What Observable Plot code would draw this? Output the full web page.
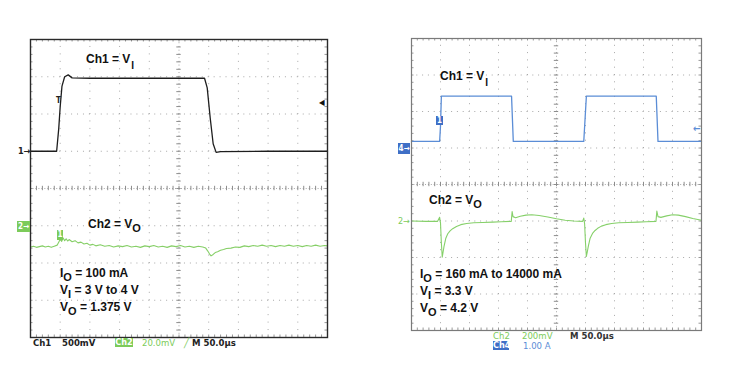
<!DOCTYPE html>
<html>
<head>
<meta charset="utf-8">
<script src="https://cdn.jsdelivr.net/npm/d3@7"></script>
<script src="https://cdn.jsdelivr.net/npm/@observablehq/plot@0.6"></script>
<style>
  html, body { margin: 0; padding: 0; background: #fff; }
  #wrap { position: relative; width: 738px; height: 365px; overflow: hidden; background: #fff; }
  .pane { position: absolute; top: 0; }
  .ann { position: absolute; font-family: "Liberation Sans", Arial, sans-serif; font-weight: bold; font-size: 12px; line-height: 14px; color: #111; white-space: nowrap; }
  .ann .s { position: relative; font-size: 11px; top: 4px; }
  .ann .s1 { position: relative; font-size: 10px; top: 6px; margin-left: 1px; }
  .tek { position: absolute; font-family: "DejaVu Sans Condensed", "DejaVu Sans", sans-serif; font-weight: bold; font-size: 9.5px; line-height: 10px; white-space: nowrap; }
  .box { position: absolute; font-family: "DejaVu Sans Condensed", "DejaVu Sans", sans-serif; font-weight: bold; font-size: 8px; color: #fff; text-align: center; white-space: nowrap; }
</style>
</head>
<body>
<div id="wrap">
  <div id="L" class="pane" style="left:0px"></div>
  <div id="R" class="pane" style="left:378px"></div>
</div>
<script>
// ---- Data (time in divisions 0..10, amplitude in divisions -4..4) ----
const leftCh1 = [[0,1.0],[0.88,1.0],[0.95,1.6],[1.0,2.2],[1.06,2.75],[1.15,3.0],[1.27,3.05],[1.4,2.97],[2.0,2.96],[4.0,2.96],[5.86,2.96],[5.95,2.7],[6.05,1.9],[6.15,1.2],[6.25,0.97],[6.4,0.99],[8.0,1.0],[10,1.0]];
const leftCh2 = [[0,-1.57],[0.1,-1.55],[0.2,-1.58],[0.3,-1.56],[0.4,-1.54],[0.5,-1.57],[0.6,-1.55],[0.7,-1.58],[0.8,-1.55],[0.9,-1.52],[0.95,-1.44],[1.0,-1.36],[1.05,-1.42],[1.1,-1.33],[1.15,-1.40],[1.2,-1.35],[1.25,-1.41],[1.3,-1.37],[1.4,-1.43],[1.5,-1.40],[1.6,-1.46],[1.7,-1.44],[1.8,-1.49],[1.9,-1.47],[2.0,-1.52],[2.1,-1.50],[2.2,-1.54],[2.35,-1.51],[2.5,-1.55],[2.65,-1.53],[2.8,-1.57],[2.95,-1.54],[3.1,-1.56],[3.25,-1.53],[3.4,-1.57],[3.55,-1.55],[3.7,-1.58],[3.85,-1.54],[4.0,-1.56],[4.15,-1.53],[4.3,-1.57],[4.45,-1.55],[4.6,-1.58],[4.75,-1.54],[4.9,-1.56],[5.05,-1.53],[5.2,-1.57],[5.35,-1.55],[5.5,-1.58],[5.65,-1.55],[5.8,-1.57],[5.9,-1.60],[5.97,-1.68],[6.03,-1.76],[6.08,-1.81],[6.15,-1.77],[6.22,-1.72],[6.3,-1.70],[6.4,-1.66],[6.5,-1.64],[6.6,-1.61],[6.75,-1.60],[6.9,-1.57],[7.05,-1.58],[7.2,-1.54],[7.35,-1.56],[7.5,-1.53],[7.65,-1.55],[7.8,-1.52],[7.95,-1.55],[8.1,-1.53],[8.25,-1.56],[8.4,-1.53],[8.55,-1.55],[8.7,-1.52],[8.85,-1.55],[9.0,-1.53],[9.15,-1.56],[9.3,-1.53],[9.45,-1.55],[9.6,-1.52],[9.75,-1.55],[9.9,-1.53],[10,-1.54]];
const rightCh1 = [[0,1.18],[0.97,1.18],[1.0,1.6],[1.03,2.42],[3.45,2.42],[3.51,1.18],[5.94,1.18],[6.03,2.42],[8.44,2.42],[8.5,1.18],[10,1.18]];
const rightCh2 = [[0,-1.0],[0.5,-1.01],[0.9,-1.01],[0.97,-0.90],[1.0,-1.05],[1.03,-1.60],[1.06,-1.99],[1.09,-1.85],[1.12,-1.70],[1.18,-1.48],[1.25,-1.35],[1.33,-1.27],[1.42,-1.21],[1.55,-1.15],[1.7,-1.10],[1.9,-1.07],[2.15,-1.05],[2.45,-1.04],[2.8,-1.03],[3.1,-1.02],[3.44,-1.01],[3.47,-0.74],[3.5,-0.88],[3.59,-0.91],[3.75,-0.87],[3.95,-0.84],[4.15,-0.83],[4.4,-0.85],[4.7,-0.89],[5.0,-0.94],[5.3,-0.98],[5.6,-1.0],[5.9,-1.01],[5.94,-0.92],[5.97,-1.08],[6.0,-1.60],[6.03,-1.97],[6.06,-1.85],[6.1,-1.68],[6.16,-1.47],[6.25,-1.33],[6.33,-1.26],[6.42,-1.20],[6.55,-1.14],[6.7,-1.10],[6.9,-1.07],[7.15,-1.05],[7.45,-1.04],[7.8,-1.03],[8.1,-1.02],[8.43,-1.01],[8.46,-0.73],[8.5,-0.88],[8.6,-0.90],[8.8,-0.86],[9.0,-0.83],[9.2,-0.84],[9.45,-0.88],[9.7,-0.93],[10,-0.98]];

// ---- Text ----
const ch1Label = ["Ch1 = V", "I"];
const ch2Label = ["Ch2 = V", "O"];
const leftInfo = [["I","O"," = 100 mA"],["V","I"," = 3 V to 4 V"],["V","O"," = 1.375 V"]];
const rightInfo = [["I","O"," = 160 mA to 14000 mA"],["V","I"," = 3.3 V"],["V","O"," = 4.2 V"]];
const leftReadout = ["Ch1", "500mV", "Ch2", "20.0mV", "M 50.0µs"];
const rightReadout = ["Ch2", "200mV", "M 50.0µs", "Ch4", "1.00 A"];

function scope({width, height, ml, mr, mt, mb, traces, frameStroke, frameWidth}) {
  const pdx = (width - ml - mr) / 10;  // px per division x
  const pdy = (height - mt - mb) / 8;  // px per division y
  const mx = pdx * 0.2, my = pdy * 0.2;
  const grid = "#a8a8a8";
  const majorX = d3.range(1, 10).filter(d => d !== 5);
  const majorY = d3.range(-3, 4).filter(d => d !== 0);
  const minorX = d3.range(0, 10.001, 0.2);
  const minorY = d3.range(-4, 4.001, 0.2);
  const tY = 2.2 / pdy, tX = 2.2 / pdx;
  const eY = 2.5 / pdy, eX = 2.5 / pdx;
  return Plot.plot({
    width, height,
    marginLeft: ml, marginRight: mr, marginTop: mt, marginBottom: mb,
    x: {domain: [0, 10], axis: null},
    y: {domain: [-4, 4], axis: null},
    style: {background: "transparent", overflow: "visible"},
    marks: [
      Plot.ruleX(majorX, {stroke: grid, strokeWidth: 1, strokeDasharray: `1 ${my - 1}`, strokeDashoffset: 0.5}),
      Plot.ruleY(majorY, {stroke: grid, strokeWidth: 1, strokeDasharray: `1 ${mx - 1}`, strokeDashoffset: 0.5}),
      Plot.ruleY([0], {stroke: grid, strokeWidth: 1, strokeDasharray: `1 ${mx / 2 - 1}`, strokeDashoffset: 0.5}),
      Plot.ruleX([5], {stroke: grid, strokeWidth: 1, strokeDasharray: `1 ${my / 2 - 1}`, strokeDashoffset: 0.5}),
      Plot.ruleX(minorX, {y1: -tY, y2: tY, stroke: "#8c8c8c", strokeWidth: 1}),
      Plot.ruleY(minorY, {x1: 5 - tX, x2: 5 + tX, stroke: "#8c8c8c", strokeWidth: 1}),
      Plot.ruleX(minorX, {y1: 4, y2: 4 - eY, stroke: "#999", strokeWidth: 1}),
      Plot.ruleX(minorX, {y1: -4, y2: -4 + eY, stroke: "#999", strokeWidth: 1}),
      Plot.ruleY(minorY, {x1: 0, x2: eX, stroke: "#999", strokeWidth: 1}),
      Plot.ruleY(minorY, {x1: 10, x2: 10 - eX, stroke: "#999", strokeWidth: 1}),
      ...traces.map(t => Plot.line(t.data, {stroke: t.color, strokeWidth: t.w, curve: "linear"})),
      Plot.frame({stroke: frameStroke, strokeWidth: frameWidth})
    ]
  });
}

document.getElementById("L").append(scope({
  width: 360, height: 365, ml: 30, mr: 33, mt: 39, mb: 28,
  frameStroke: "#2a2a2a", frameWidth: 1.4,
  traces: [
    {data: leftCh1, color: "#1e1e1e", w: 1.3},
    {data: leftCh2, color: "#86cf67", w: 1.1}
  ]
}));
document.getElementById("R").append(scope({
  width: 360, height: 365, ml: 33, mr: 37, mt: 38, mb: 35,
  frameStroke: "#7a7a7a", frameWidth: 1.2,
  traces: [
    {data: rightCh1, color: "#5b8dd6", w: 1.3},
    {data: rightCh2, color: "#86d06a", w: 1.1}
  ]
}));

// ---- Overlays ----
const wrap = document.getElementById("wrap");
function add(cls, left, top, html, style = "") {
  const d = document.createElement("div");
  d.className = cls;
  d.style.cssText = `left:${left}px;top:${top}px;${style}`;
  d.innerHTML = html;
  wrap.append(d);
  return d;
}
const sub1 = (a) => `${a[0]}<span class="s1">${a[1]}</span>`;
const sub2 = (a) => `${a[0]}<span class="s">${a[1]}</span>`;
const info = (a) => `${a[0]}<span class="s">${a[1]}</span>${a[2]}`;

add("ann", 86, 52, sub1(ch1Label));
add("ann", 440, 69, sub1(ch1Label));
add("ann", 88, 217, sub2(ch2Label));
add("ann", 429, 193, sub2(ch2Label));
leftInfo.forEach((a, i) => add("ann", 60, 266 + i * 17, info(a)));
rightInfo.forEach((a, i) => add("ann", 420, 267 + i * 17, info(a)));

// readouts
const green = "#7ccb5a", blue = "#3f6fc6";
add("tek", 33, 337.5, leftReadout[0], "color:#222");
add("tek", 62, 337.5, leftReadout[1], "color:#222");
add("box", 115, 338, leftReadout[2], `width:18px;height:9px;line-height:9px;background:${green};font-size:9px`);
add("tek", 142, 337.5, leftReadout[3], `color:${green};font-weight:normal`);
add("tek", 184, 337.5, "\u2571", `color:${green};font-weight:normal`);
add("tek", 192, 337.5, leftReadout[4], "color:#222");

add("tek", 493, 330.5, rightReadout[0], `color:${green};font-weight:normal`);
add("tek", 522, 330.5, rightReadout[1], `color:${green};font-weight:normal`);
add("tek", 570, 330.5, rightReadout[2], "color:#333");
add("box", 493, 341, rightReadout[3], `width:16px;height:9px;line-height:9px;background:${blue};font-size:9px`);
add("tek", 523, 340.5, rightReadout[4], `color:#5b8dd6;font-weight:normal`);

// channel markers
add("tek", 18, 146, "1\u2192", "color:#222;font-size:9px");
add("box", 17, 221, "2\u2192", `width:13px;height:11px;line-height:11px;background:${green}`);
add("box", 57, 230, "1", `width:6px;height:10px;line-height:10px;background:${green}`);
add("tek", 56, 96, "T", "color:#222;font-size:8px");
add("tek", 319, 98, "\u25C0", "color:#111;font-size:8px");

add("box", 398, 143, "4\u2192", `width:12px;height:11px;line-height:11px;background:${blue}`);
add("box", 436, 116, "1", `width:7px;height:9px;line-height:9px;background:${blue}`);
add("tek", 398, 215.5, "2\u2192", `color:${green};font-size:9px;font-weight:normal`);
add("tek", 693, 123.5, "\u2190", "color:#5b8dd6;font-size:10px");
</script>
</body>
</html>
